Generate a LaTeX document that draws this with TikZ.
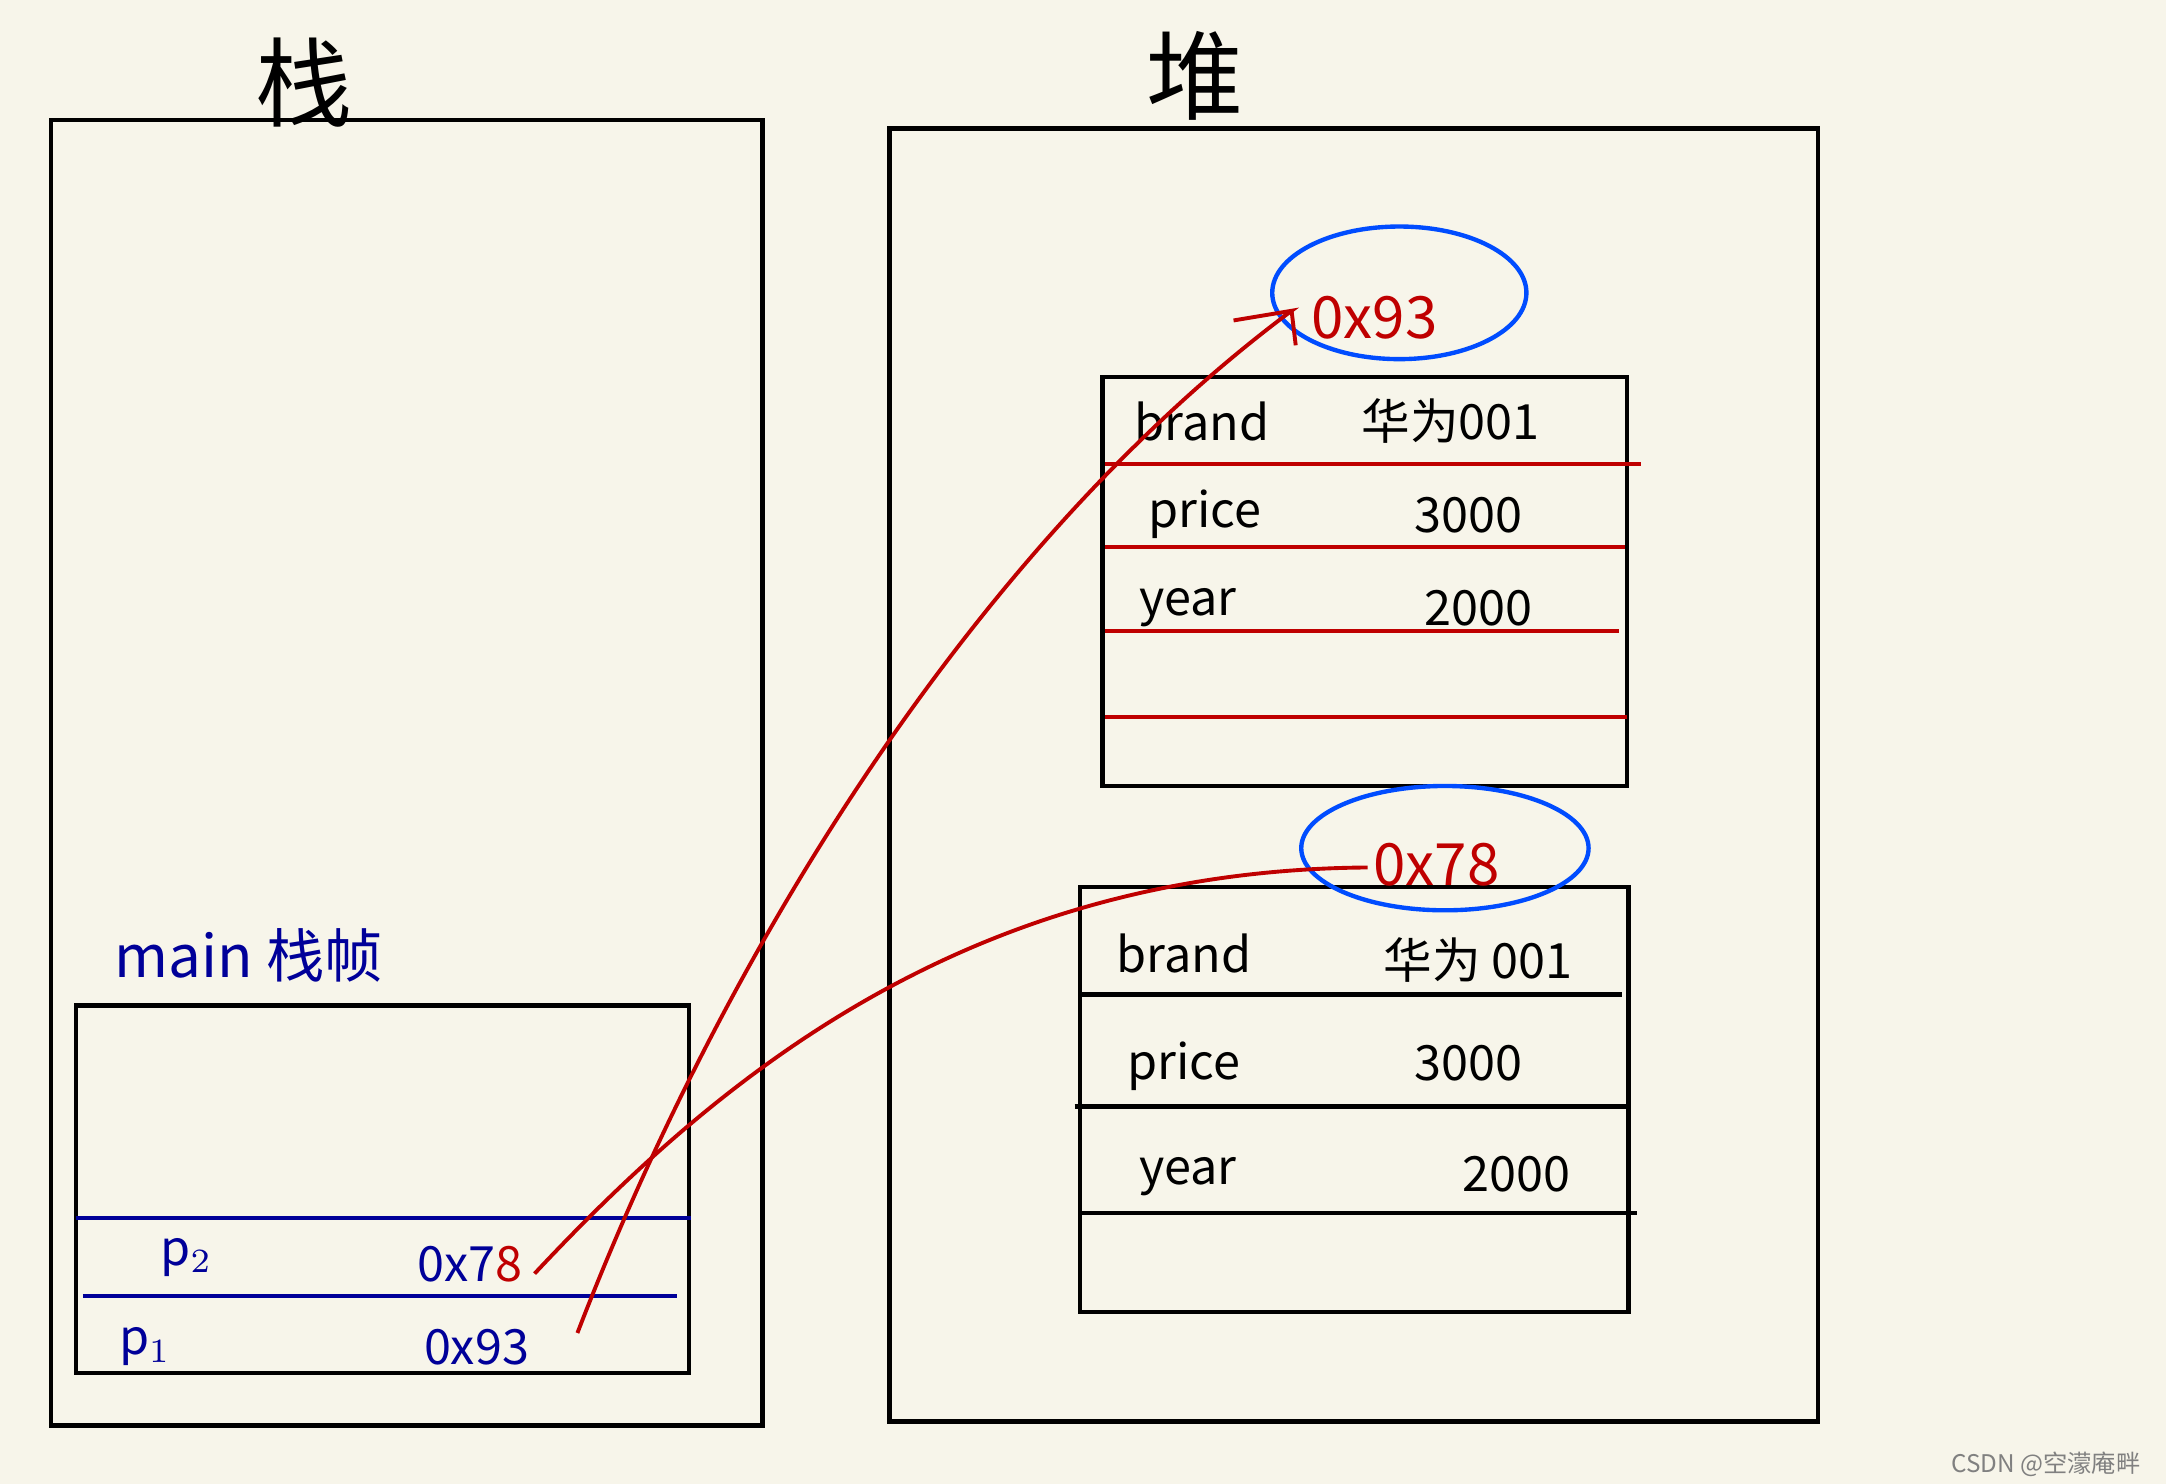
\documentclass[tikz,border=0pt]{standalone}
\usepackage{fontspec}
\setmainfont{Noto Sans CJK SC}
\begin{document}
\begin{tikzpicture}[x=0.01cm,y=-0.01cm,
  blk/.style={draw=black,line width=0.9pt},
  rl/.style={draw=red!75!black,line width=0.8pt},
  bl/.style={draw=blue!60!black,line width=0.8pt},
  cl/.style={draw=blue!70!cyan,line width=0.9pt},
  lab/.style={font=\fontsize{10}{12}\selectfont\itshape},
  ttl/.style={font=\fontsize{20}{22}\selectfont}]
\fill[fill={rgb,255:red,247;green,245;blue,234}] (0,0) rectangle (1568,1074);
\useasboundingbox (0,0) rectangle (1568,1074);
\node[ttl] (tstack) at (220,60) {栈};
\node[ttl] (theap) at (865,55) {堆};
\draw[blk] (37,87) rectangle (552,1032);
\draw[blk] (644,93) rectangle (1316,1029);
% main frame
\node[text=blue!60!black,font=\fontsize{12}{14}\selectfont] (mf) at (180,692) {main 栈帧};
\draw[blk] (55,728) rectangle (499,994);
\draw[bl] (55,882) -- (500,882);
\draw[bl] (60,938) -- (490,938);
\node[lab,text=blue!60!black] (p2) at (135,910) {p$_2$};
\node[lab,text=blue!60!black] (v2) at (340,915) {0x7\textcolor{red!75!black}{8}};
\node[lab,text=blue!60!black] (p1) at (105,975) {p$_1$};
\node[lab,text=blue!60!black] (v1) at (345,975) {0x93};
% object 1
\draw[blk] (798,273) rectangle (1178,569);
\draw[rl] (800,336) -- (1188,336);
\draw[rl] (800,396) -- (1176,396);
\draw[rl] (800,457) -- (1172,457);
\draw[rl] (800,519) -- (1178,519);
\node[lab] (b1) at (870,305) {brand};
\node[lab] (bv1) at (1050,305) {华为001};
\node[lab] (pr1) at (872,372) {price};
\node[lab] (pv1) at (1063,373) {3000};
\node[lab] (y1) at (860,440) {year};
\node[lab] (yv1) at (1070,440) {2000};
\draw[cl] (1013,212) ellipse [x radius=92,y radius=48];
\node[text=red!75!black,font=\fontsize{12}{14}\selectfont] (a1) at (995,230) {0x93};
% object 2
\draw[blk] (782,642) rectangle (1179,950);
\draw[blk] (782,720) -- (1174,720);
\draw[blk] (778,801) -- (1178,801);
\draw[blk] (782,878) -- (1185,878);
\node[lab] (b2) at (857,690) {brand};
\node[lab] (bv2) at (1070,695) {华为 001};
\node[lab] (pr2) at (857,772) {price};
\node[lab] (pv2) at (1063,770) {3000};
\node[lab] (y2) at (860,852) {year};
\node[lab] (yv2) at (1098,850) {2000};
\draw[cl] (1046,614) ellipse [x radius=104,y radius=45];
\node[text=red!75!black,font=\fontsize{12}{14}\selectfont] (a2) at (1040,626) {0x78};
% pointers
\coordinate (s1) at (418,965);
\coordinate (e1) at (935,225);
\coordinate (s2) at (387,922);
\coordinate (e2) at (990,628);
\draw[rl] (s1) .. controls (520,700) and (700,400) .. (e1) -- (893,232);
\draw[rl] (e1) -- (938,250);
\draw[rl] (s2) .. controls (520,780) and (700,630) .. (e2);
\node[font=\fontsize{5}{6}\selectfont,text=gray,anchor=east] (wm) at (1562,1060) {CSDN @空濛庵畔};
\end{tikzpicture}
\end{document}
